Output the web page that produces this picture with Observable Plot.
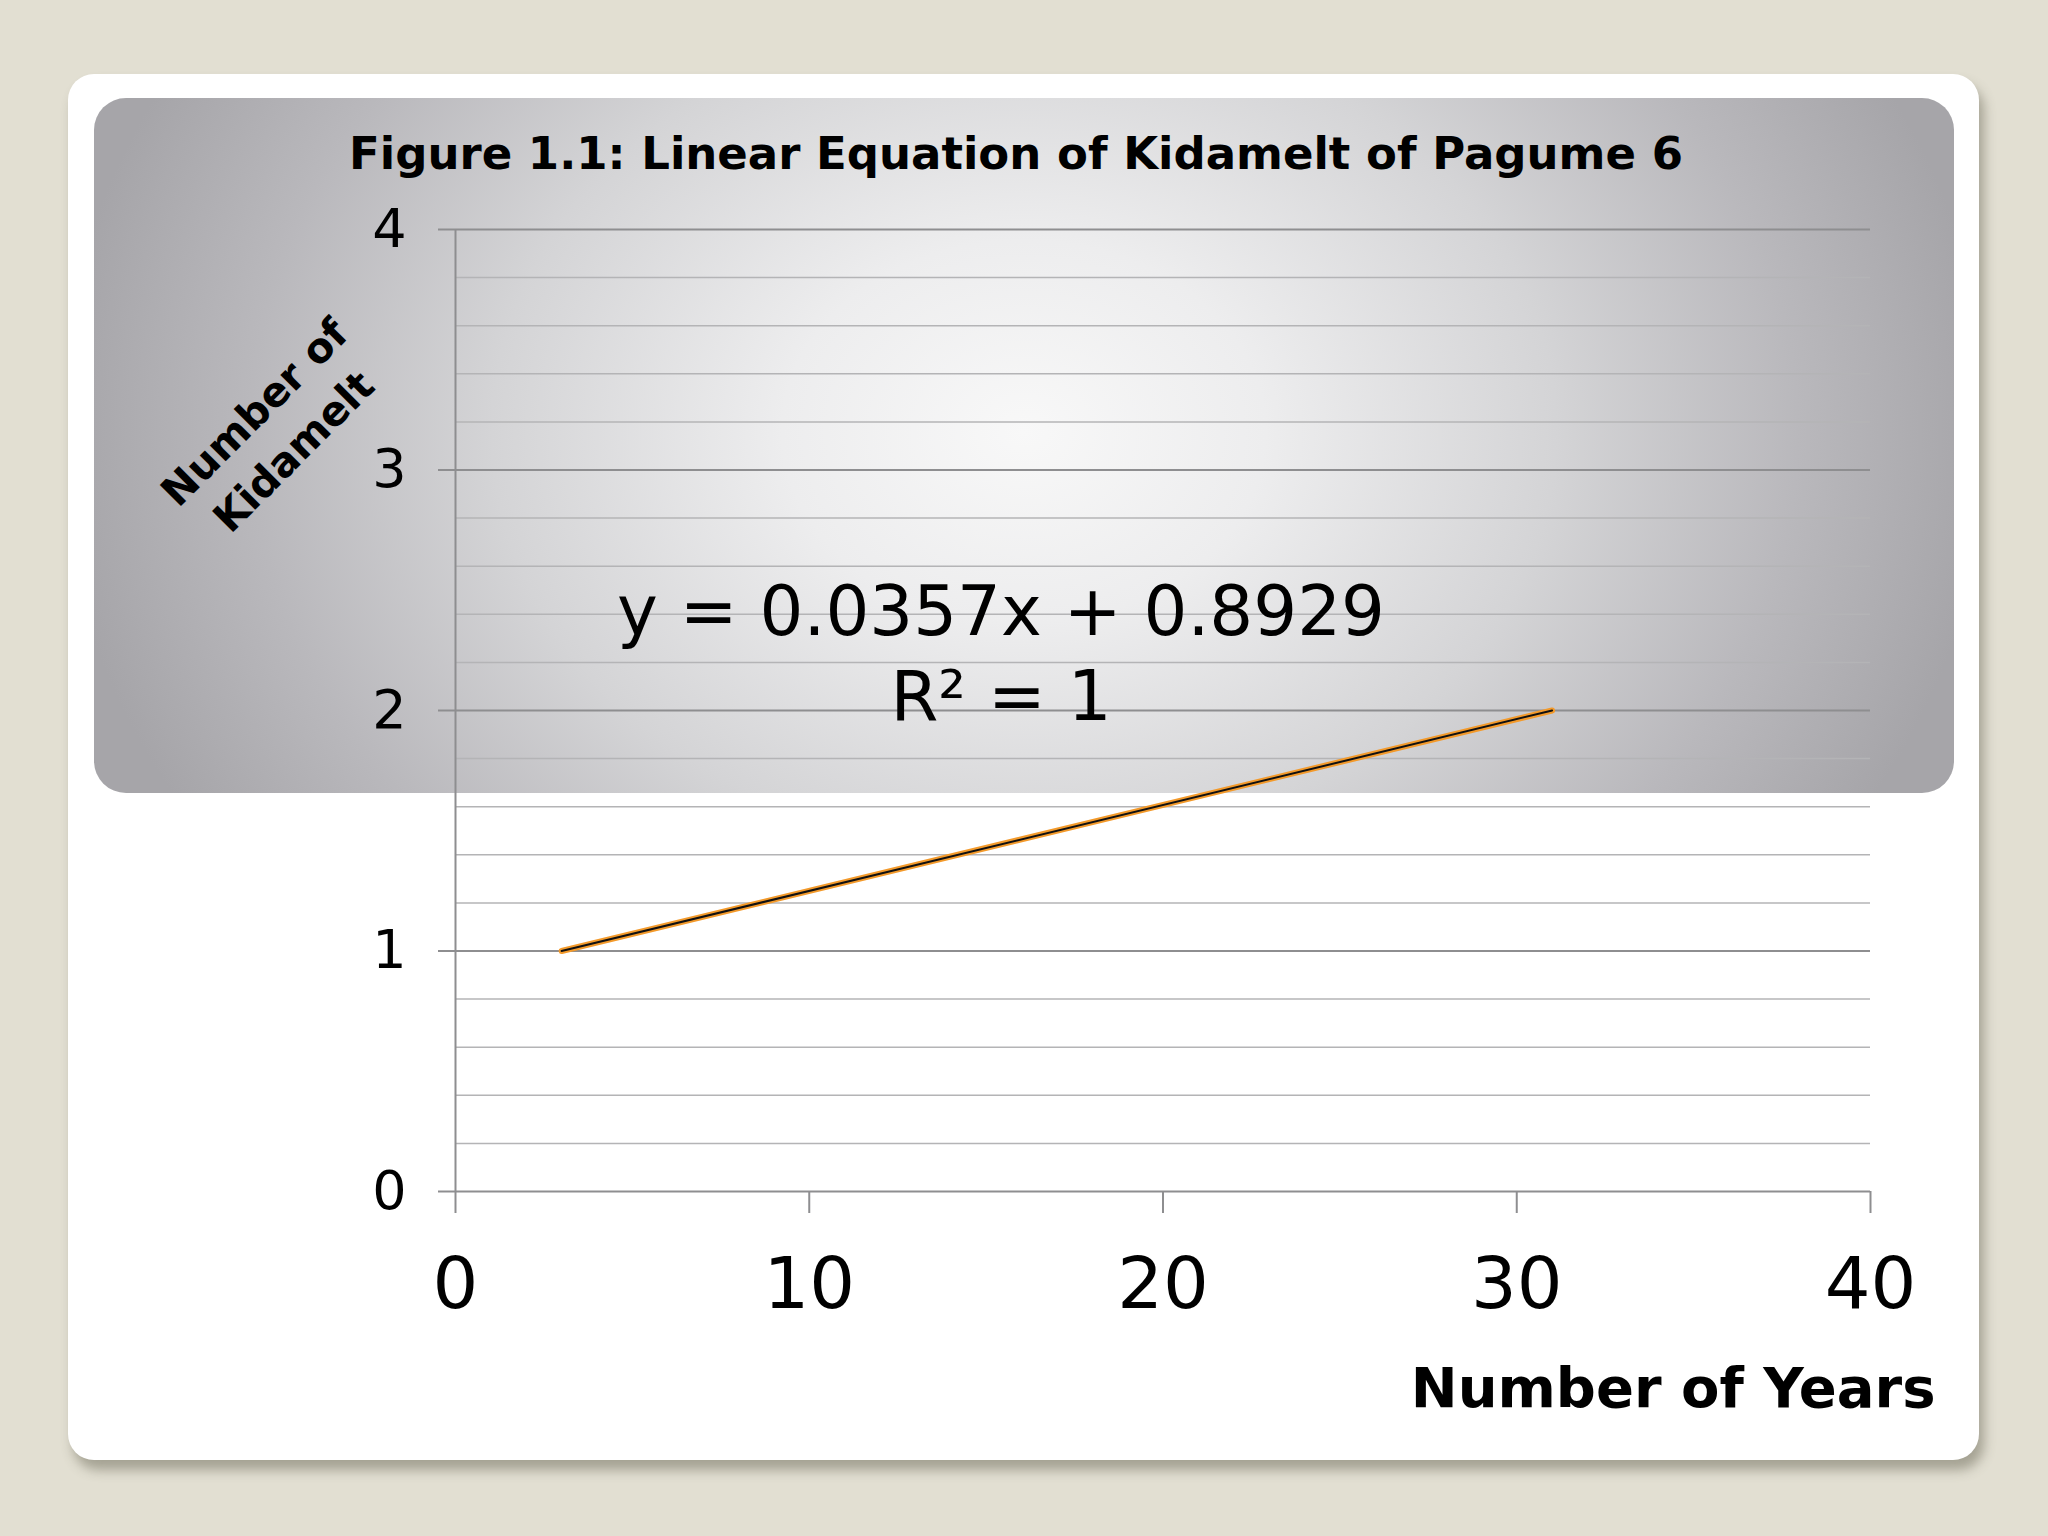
<!DOCTYPE html>
<html>
<head>
<meta charset="utf-8">
<script src="https://cdn.jsdelivr.net/npm/d3@7"></script>
<script src="https://cdn.jsdelivr.net/npm/@observablehq/plot@0.6"></script>
<style>
  html, body { margin: 0; padding: 0; width: 2048px; height: 1536px; overflow: hidden; background: #e2dfd2; }
  #card { position: absolute; left: 68px; top: 74px; width: 1911px; height: 1386px; background: #ffffff; border-radius: 26px;
          box-shadow: 5px 10px 12px rgba(90, 88, 70, 0.45); }
  #panel { position: absolute; left: 94px; top: 98px; width: 1860px; height: 695px; border-radius: 32px;
           background: radial-gradient(ellipse 52% 110% at 50% 48%, #f8f8f8 0%, #ededee 25%, #d4d4d6 55%, #b9b8bc 80%, #a6a5a9 100%); }
  #chart { position: absolute; left: 0; top: 0; }
</style>
</head>
<body>
<div id="card"></div>
<div id="panel"></div>
<div id="chart"></div>
<script>
// Data
const years = [3, 31];
const kidamelt = [1, 2];
const xTicks = [0, 10, 20, 30, 40];
const yTicks = [0, 1, 2, 3, 4];
const slope = 0.0357;
const intercept = 0.8929;
const rSquared = 1;
const chartTitle = "Figure 1.1: Linear Equation of Kidamelt of Pagume 6";
const xTitle = "Number of Years";
const yTitle = "Number of\nKidamelt";

const points = years.map((x, i) => ({x, y: kidamelt[i]}));
const minorGrid = d3.range(0, 4.0001, 0.2).filter(v => Math.abs(v - Math.round(v)) > 1e-6);
const equation = `y = ${slope}x + ${intercept}\nR² = ${rSquared}`;

const chart = Plot.plot({
  width: 2048,
  height: 1536,
  marginLeft: 455,
  marginRight: 178,
  marginTop: 229,
  marginBottom: 345,
  x: {domain: [0, 40]},
  y: {domain: [0, 4]},
  style: {background: "transparent", fontFamily: "'DejaVu Sans', Verdana, sans-serif", color: "black", overflow: "visible"},
  marks: [
    Plot.ruleY(minorGrid, {stroke: "#b4b4b6", strokeWidth: 1.5}),
    Plot.ruleY(yTicks, {stroke: "#8e8e90", strokeWidth: 2}),
    Plot.ruleX([0], {stroke: "#8e8e90", strokeWidth: 2}),
    Plot.axisX({ticks: xTicks, tickSize: 22, tickPadding: 43, fontSize: 72, stroke: "#8e8e90", strokeWidth: 2, label: null, tickFormat: d => String(d)}),
    Plot.axisY({ticks: yTicks, tickSize: 17, tickPadding: 32, fontSize: 54, stroke: "#8e8e90", strokeWidth: 2, label: null, tickFormat: d => String(d)}),
    Plot.line(points, {x: "x", y: "y", stroke: "#f39a2b", strokeWidth: 6}),
    Plot.line(points, {x: "x", y: "y", stroke: "#111111", strokeWidth: 2}),
    Plot.text([equation], {text: d => d, frameAnchor: "middle", dx: -162, dy: -60, fontSize: 69, lineHeight: 1.23, textAnchor: "middle", lineAnchor: "middle", fill: "black"}),
    Plot.text([chartTitle], {text: d => d, frameAnchor: "top", dx: -147, dy: -75, fontSize: 45, fontWeight: "bold", textAnchor: "middle", lineAnchor: "middle", fill: "black"}),
    Plot.text([xTitle], {text: d => d, frameAnchor: "bottom-right", dx: 65, dy: 198, fontSize: 56, fontWeight: "bold", textAnchor: "end", lineAnchor: "middle", fill: "black"}),
    Plot.text([yTitle], {text: d => d, frameAnchor: "top-left", dx: -184, dy: 200, rotate: -45, fontSize: 41, fontWeight: "bold", lineHeight: 1.35, textAnchor: "middle", lineAnchor: "middle", fill: "black"})
  ]
});
document.getElementById("chart").appendChild(chart);
</script>
</body>
</html>
